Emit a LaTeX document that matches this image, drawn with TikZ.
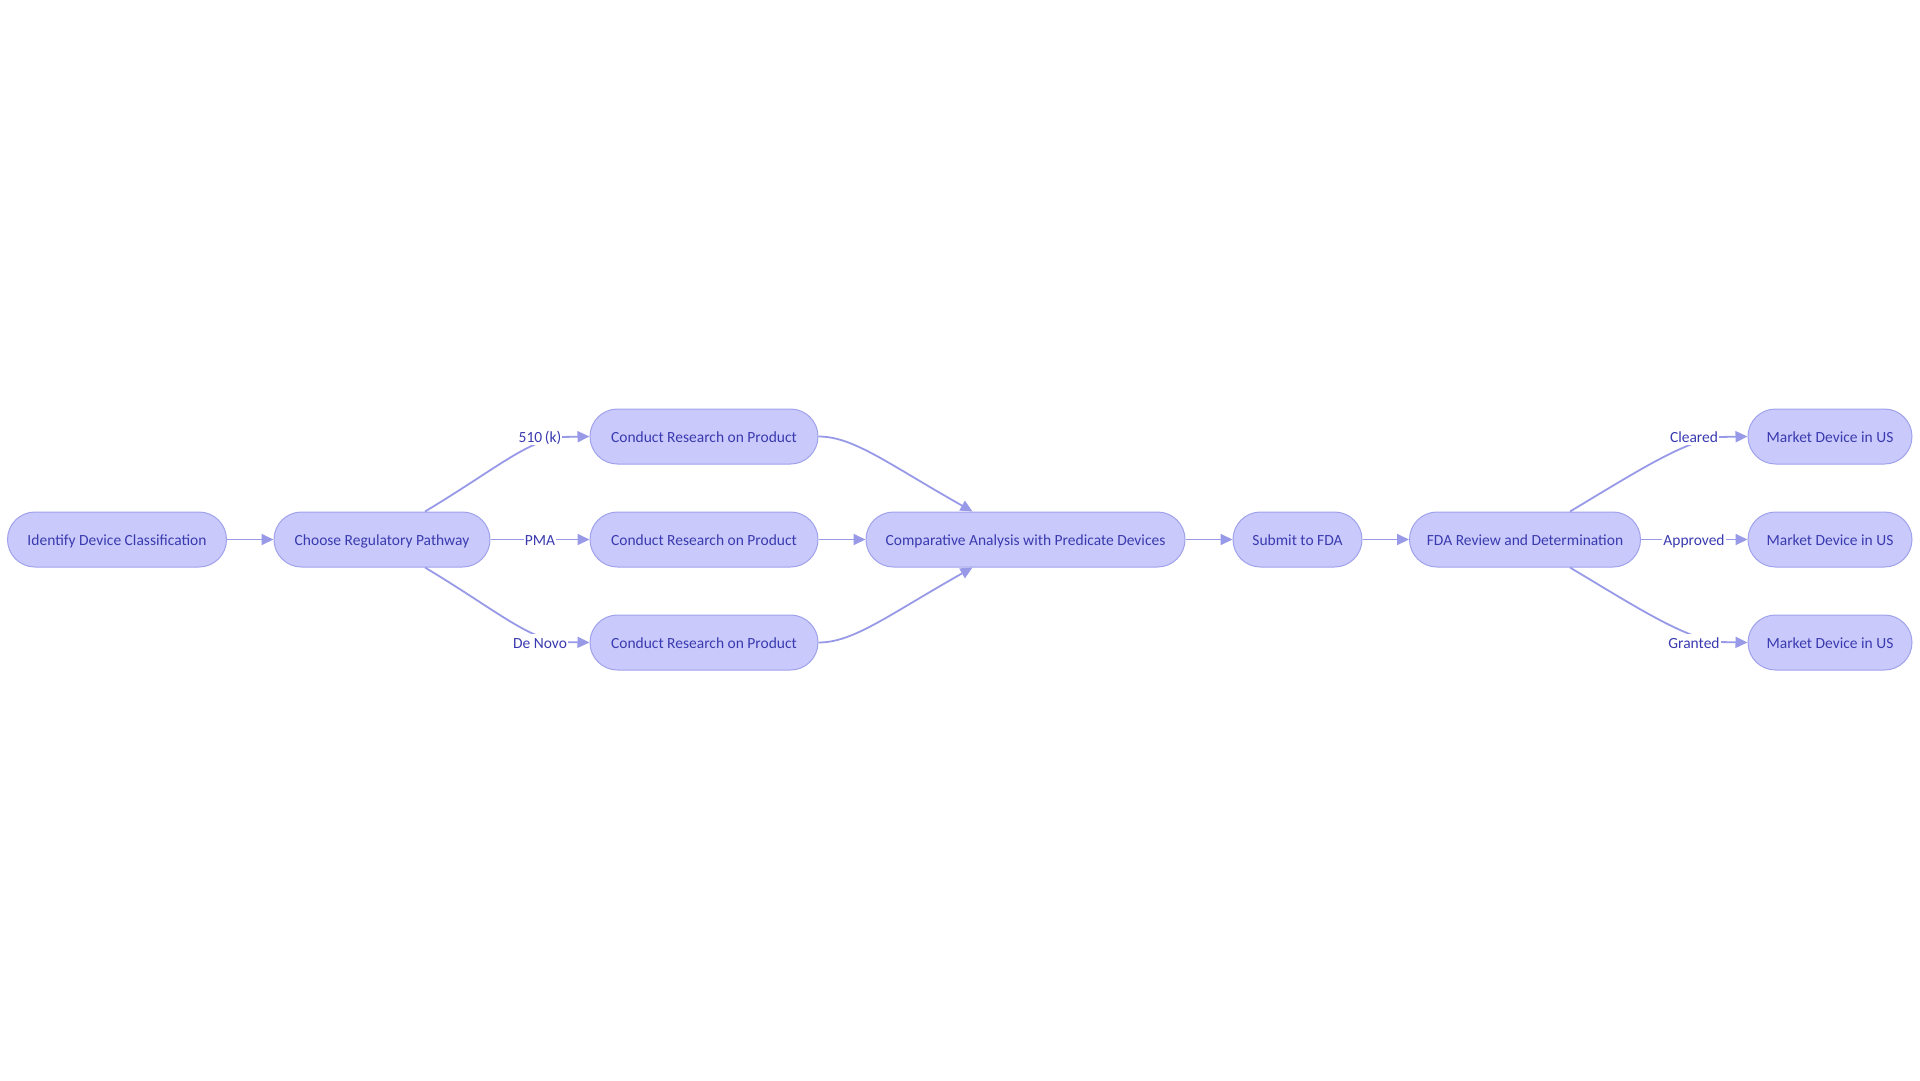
\documentclass[tikz,border=0pt]{standalone}
\usepackage{fontspec}
\setmainfont{Carlito}
\usetikzlibrary{calc,arrows.meta}
\definecolor{nodefill}{RGB}{201,202,251}
\definecolor{nodeline}{RGB}{160,162,235}
\definecolor{edgecol}{RGB}{152,154,232}
\definecolor{txtcol}{RGB}{58,58,176}
\begin{document}
\begin{tikzpicture}[x=1pt,y=-1pt,
  box/.style={draw=nodeline, line width=1pt, fill=nodefill, rounded corners=27.5pt,
    minimum height=55pt, inner sep=0pt, text height=15pt, text depth=2.6pt,
    text=txtcol, font=\fontsize{15.5}{18}\selectfont},
  lbl/.style={fill=white, inner xsep=1pt, inner ysep=0pt, text height=14pt, text depth=3pt,
    text=txtcol, font=\fontsize{15.5}{18}\selectfont},
  edge/.style={draw=edgecol, line width=1.8pt, -{Triangle[length=12pt,width=11pt]}}]
\useasboundingbox[fill=white] (0,0) rectangle (1920,1080);

% nodes
\node[box, minimum width=219pt] (n1) at (117,539.5) {Identify Device Classification};
\node[box, minimum width=216pt] (n2) at (382,539.5) {Choose Regulatory Pathway};
\node[box, minimum width=228pt] (c1) at (704,436.5) {Conduct Research on Product};
\node[box, minimum width=228pt] (c2) at (704,539.5) {Conduct Research on Product};
\node[box, minimum width=228pt] (c3) at (704,642.5) {Conduct Research on Product};
\node[box, minimum width=319pt] (cmp) at (1025.5,539.5) {Comparative Analysis with Predicate Devices};
\node[box, minimum width=129pt] (sub) at (1297.5,539.5) {Submit to FDA};
\node[box, minimum width=231pt] (fda) at (1525,539.5) {FDA Review and Determination};
\node[box, minimum width=164pt] (m1) at (1830,436.5) {Market Device in US};
\node[box, minimum width=164pt] (m2) at (1830,539.5) {Market Device in US};
\node[box, minimum width=164pt] (m3) at (1830,642.5) {Market Device in US};

% helper coordinates
\coordinate (s1) at ($(n2.north)+(43,0)$);
\coordinate (s3) at ($(n2.south)+(43,0)$);
\coordinate (k1) at (560,437);
\coordinate (k3) at (560,642);
\coordinate (t1) at ($(cmp.north)+(-53,0)$);
\coordinate (t3) at ($(cmp.south)+(-53,0)$);
\coordinate (s4) at ($(fda.north)+(45,0)$);
\coordinate (s6) at ($(fda.south)+(45,0)$);
\coordinate (k4) at (1718,437);
\coordinate (k6) at (1718,642);

% edges
\draw[edge] (n1) -- (n2);
\draw[edge] (n2) -- (c2);
\draw[edge] (s1) .. controls +(70,-42) and +(-35,5) .. (k1) -- (c1.west);
\draw[edge] (s3) .. controls +(70,42) and +(-35,-5) .. (k3) -- (c3.west);
\draw[edge] (c1.east) .. controls +(35,0) and +(-85,-48) .. (t1);
\draw[edge] (c2) -- (cmp);
\draw[edge] (c3.east) .. controls +(35,0) and +(-85,48) .. (t3);
\draw[edge] (cmp) -- (sub);
\draw[edge] (sub) -- (fda);
\draw[edge] (s4) .. controls +(70,-42) and +(-35,5) .. (k4) -- (m1.west);
\draw[edge] (fda) -- (m2);
\draw[edge] (s6) .. controls +(70,42) and +(-35,-5) .. (k6) -- (m3.west);

% edge labels
\node[lbl] (l1) at (540,436.5) {510\,(k)};
\node[lbl] (l2) at (540,539.5) {PMA};
\node[lbl] (l3) at (540,642.5) {De Novo};
\node[lbl] (l4) at (1694,436.5) {Cleared};
\node[lbl] (l5) at (1694,539.5) {Approved};
\node[lbl] (l6) at (1694,642.5) {Granted};
\end{tikzpicture}
\end{document}
